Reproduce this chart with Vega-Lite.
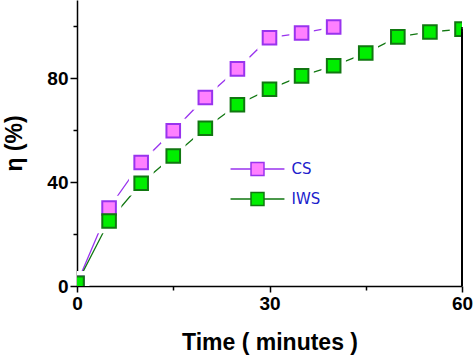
{
  "$schema": "https://vega.github.io/schema/vega-lite/v6.json",
  "width": 385,
  "height": 286,
  "autosize": "none",
  "padding": {"left": 77, "top": 0, "right": 12, "bottom": 70},
  "background": "white",
  "config": {
    "view": {"stroke": null},
    "axis": {
      "domainColor": "#000000",
      "domainWidth": 1.5,
      "tickColor": "#000000",
      "tickWidth": 1.5,
      "grid": false,
      "labelFont": "Liberation Sans",
      "labelFontWeight": "bold",
      "labelFontSize": 19,
      "labelColor": "#000000",
      "titleFont": "Liberation Sans",
      "titleFontWeight": "bold",
      "titleFontSize": 23,
      "titleColor": "#000000",
      "zindex": 1
    },
    "legend": {
      "title": null,
      "orient": "none",
      "legendX": 168.5,
      "legendY": 157,
      "symbolType": "M-2.45,0H-0.59M0.59,0H2.45M-0.59,-0.59H0.59V0.59H-0.59Z",
      "symbolSize": 484,
      "symbolStrokeWidth": 1.5,
      "labelOffset": 22,
      "rowPadding": 8,
      "labelFont": "DejaVu Sans",
      "labelFontSize": 15,
      "labelColor": "#2020cc",
      "labelBaseline": "middle"
    }
  },
  "data": {
    "values": [
      {"series": "CS", "time": 0, "eta": 1},
      {"series": "CS", "time": 5, "eta": 30},
      {"series": "CS", "time": 10, "eta": 47.5},
      {"series": "CS", "time": 15, "eta": 59.7},
      {"series": "CS", "time": 20, "eta": 72.5},
      {"series": "CS", "time": 25, "eta": 83.5},
      {"series": "CS", "time": 30, "eta": 95.5},
      {"series": "CS", "time": 35, "eta": 97.3},
      {"series": "CS", "time": 40, "eta": 99.6},
      {"series": "IWS", "time": 0, "eta": 1},
      {"series": "IWS", "time": 5, "eta": 25},
      {"series": "IWS", "time": 10, "eta": 39.5},
      {"series": "IWS", "time": 15, "eta": 50},
      {"series": "IWS", "time": 20, "eta": 60.7},
      {"series": "IWS", "time": 25, "eta": 69.7},
      {"series": "IWS", "time": 30, "eta": 75.7},
      {"series": "IWS", "time": 35, "eta": 80.8},
      {"series": "IWS", "time": 40, "eta": 84.7},
      {"series": "IWS", "time": 45, "eta": 89.6},
      {"series": "IWS", "time": 50, "eta": 95.8},
      {"series": "IWS", "time": 55, "eta": 97.7},
      {"series": "IWS", "time": 60, "eta": 98.8}
    ]
  },
  "encoding": {
    "x": {
      "field": "time",
      "type": "quantitative",
      "scale": {"domain": [0, 60], "nice": false, "zero": false},
      "axis": {
        "title": "Time ( minutes )",
        "values": [0, 15, 30, 45, 60],
        "labelExpr": "datum.value % 30 === 0 ? datum.label : ''",
        "tickSize": {"condition": {"test": "datum.value % 30 === 0", "value": 6}, "value": 4},
        "labelPadding": 2,
        "titlePadding": 18,
        "labelFlush": false
      }
    },
    "y": {
      "field": "eta",
      "type": "quantitative",
      "scale": {"domain": [0, 110], "nice": false},
      "axis": {
        "title": "η (%)",
        "values": [0, 20, 40, 60, 80, 100],
        "labelExpr": "datum.value % 40 === 0 ? datum.label : ''",
        "tickSize": {"condition": {"test": "datum.value % 40 === 0", "value": 7}, "value": 4},
        "labelPadding": 2,
        "titlePadding": 20,
        "labelFlush": false
      }
    }
  },
  "layer": [
    {
      "mark": {"type": "line", "strokeWidth": 1.3, "clip": true},
      "encoding": {
        "stroke": {
          "field": "series",
          "type": "nominal",
          "scale": {"domain": ["CS", "IWS"], "range": ["#9933ee", "#117711"]}
        }
      }
    },
    {
      "mark": {"type": "point", "shape": "square", "filled": true, "fill": "white", "opacity": 1, "size": 600, "clip": true},
      "encoding": {}
    },
    {
      "mark": {"type": "point", "shape": "square", "filled": true, "opacity": 1, "size": 185, "strokeWidth": 2, "clip": true},
      "encoding": {
        "fill": {
          "field": "series",
          "type": "nominal",
          "scale": {"domain": ["CS", "IWS"], "range": ["#ff80ff", "#00ee00"]}
        },
        "stroke": {
          "field": "series",
          "type": "nominal"
        }
      }
    },
    {
      "mark": {"type": "rule", "color": "#000000", "strokeWidth": 1.5},
      "encoding": {"x": {"datum": 60}}
    }
  ]
}
